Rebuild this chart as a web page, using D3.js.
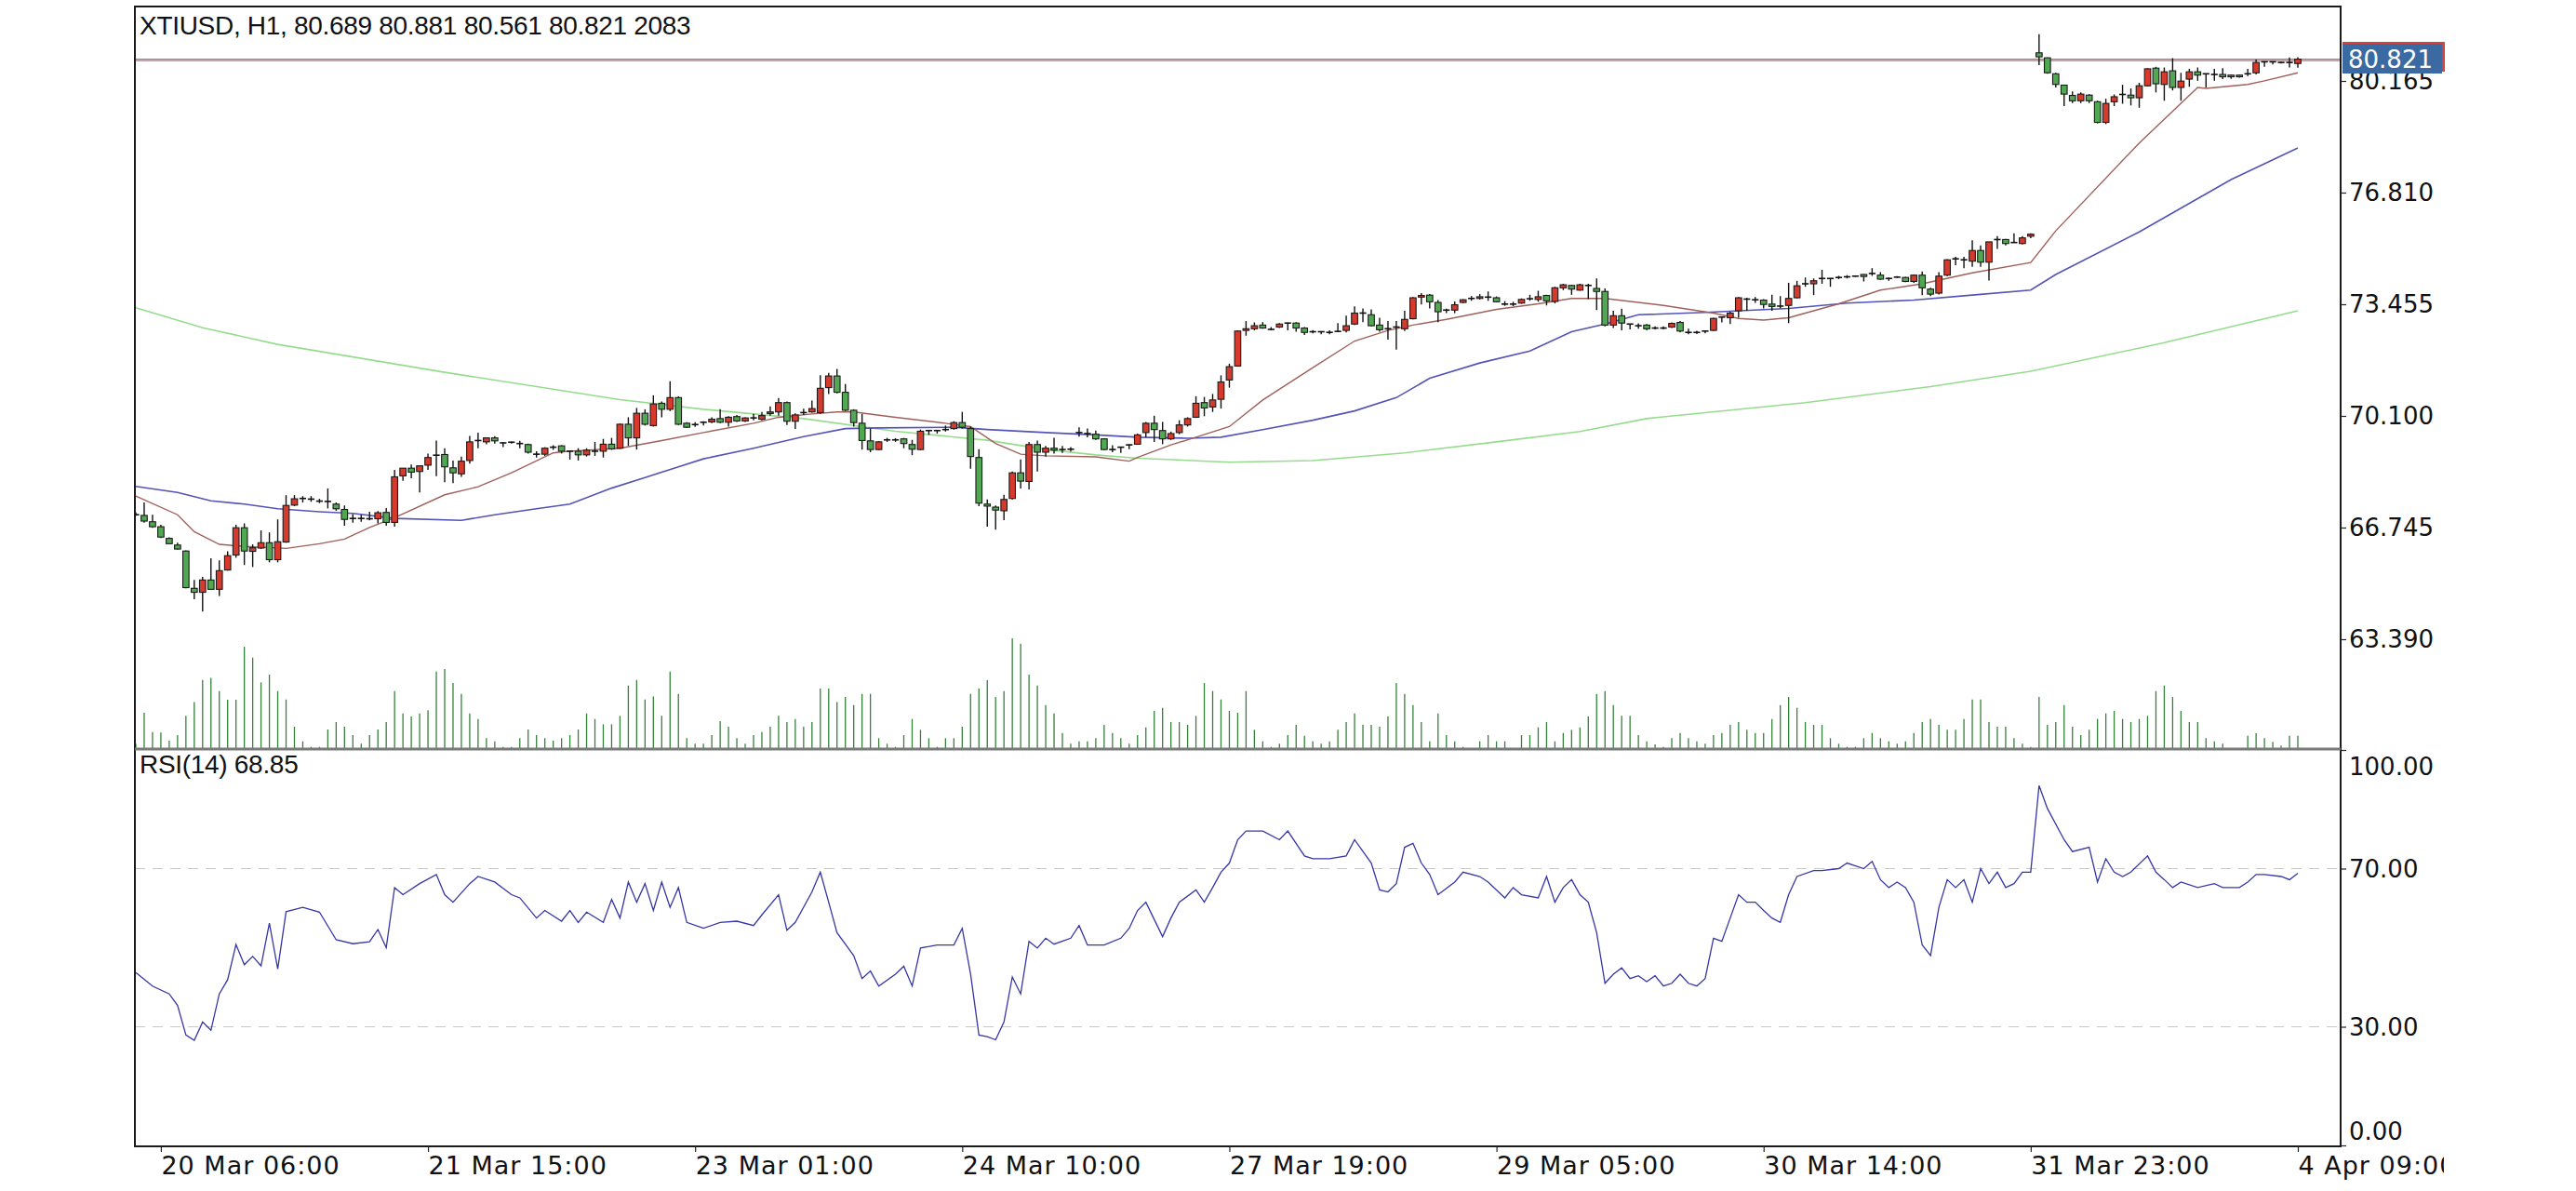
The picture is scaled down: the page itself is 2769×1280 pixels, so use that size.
<!DOCTYPE html>
<html>
<head>
<meta charset="utf-8">
<script src="https://cdn.jsdelivr.net/npm/d3@7"></script>
<style>
  body { margin: 0; background: #fff; }
  svg { display: block; }
</style>
</head>
<body>
<svg id="chart" width="2769" height="1280"></svg>
<script>
// ---- data (hourly bars, index 0..259) ----
var symbolTitle = "XTIUSD, H1, 80.689 80.881 80.561 80.821 2083";
var rsiTitle = "RSI(14) 68.85";
var lastPrice = 80.821;

var opens = [67.16,67.11,66.92,66.77,66.42,66.22,66.04,64.92,64.80,65.17,
64.89,65.47,65.92,66.74,66.03,66.13,66.29,65.78,66.31,67.42,
67.62,67.62,67.55,67.53,67.45,67.29,67.02,67.02,67.05,67.01,
67.20,66.90,68.30,68.53,68.43,68.62,68.92,68.94,68.54,68.36,
68.76,69.36,69.32,69.44,69.29,69.31,69.27,69.24,68.99,68.95,
69.16,69.20,69.04,69.04,68.93,69.04,69.04,69.25,69.13,69.85,
69.44,70.18,69.81,70.48,70.30,70.65,69.88,69.87,69.91,69.92,
70.02,69.91,70.08,69.95,70.04,70.00,70.17,70.22,70.50,69.94,
70.20,70.22,70.20,70.95,71.30,70.81,70.27,69.88,69.35,69.09,
69.38,69.41,69.41,69.24,69.09,69.66,69.66,69.69,69.72,69.90,
69.72,68.85,67.45,67.36,67.25,67.62,68.39,68.13,69.24,69.01,
69.13,69.09,69.10,69.60,69.57,69.55,69.41,69.13,69.16,69.23,
69.25,69.60,69.88,69.66,69.41,69.60,69.83,70.06,70.50,70.37,
70.60,71.18,71.60,72.67,72.72,72.83,72.74,72.77,72.89,72.89,
72.74,72.63,72.63,72.61,72.67,72.67,72.86,73.19,73.14,72.83,
72.72,72.77,72.72,73.02,73.67,73.73,73.51,73.28,73.28,73.51,
73.63,73.63,73.67,73.65,73.46,73.46,73.49,73.62,73.60,73.72,
73.54,73.95,74.02,73.88,74.02,73.93,73.84,72.83,73.11,72.86,
72.81,72.83,72.74,72.74,72.77,72.91,72.61,72.61,72.65,72.67,
73.07,73.05,73.26,73.61,73.59,73.58,73.46,73.40,73.42,73.65,
74.07,74.07,74.23,74.23,74.26,74.28,74.30,74.35,74.38,74.33,
74.23,74.27,74.26,74.14,74.33,73.91,73.79,74.33,74.82,74.79,
74.75,75.07,74.72,75.40,75.40,75.31,75.28,75.50,81.01,80.86,
80.38,80.04,79.73,79.57,79.74,79.54,78.92,79.54,79.76,79.74,
79.66,80.02,80.55,80.06,80.47,79.97,80.22,80.44,80.38,80.36,
80.36,80.34,80.34,80.38,80.41,80.74,80.74,80.72,80.72,80.689];

var highs = [67.20,67.50,67.13,66.83,66.45,66.29,66.06,65.17,65.26,65.82,
65.76,66.03,66.83,66.87,66.24,66.66,66.60,66.99,67.72,67.72,
67.69,67.69,67.61,67.92,67.50,67.41,67.15,67.13,67.22,67.24,
67.33,68.48,68.53,68.64,68.60,68.97,69.36,69.13,68.76,68.88,
69.50,69.60,69.46,69.49,69.30,69.33,69.35,69.27,69.04,69.16,
69.22,69.22,69.05,69.13,69.13,69.32,69.41,69.44,69.87,70.06,
70.34,70.30,70.72,70.53,71.14,70.69,69.91,69.91,69.94,70.06,
70.30,70.09,70.13,70.06,70.16,70.22,70.39,70.64,70.53,70.18,
70.32,70.56,71.32,71.39,71.51,71.06,70.30,70.16,69.72,69.34,
69.44,69.43,69.44,69.38,69.69,69.67,69.67,69.81,69.94,70.22,
69.78,69.10,67.59,67.41,67.73,68.43,68.79,69.32,69.36,69.20,
69.44,69.20,69.16,69.76,69.72,69.66,69.43,69.22,69.17,69.24,
69.57,69.92,70.11,69.92,69.63,69.97,70.06,70.69,70.67,70.76,
71.32,71.67,72.67,72.95,72.91,72.92,72.77,72.89,72.90,72.92,
72.77,72.68,72.64,72.67,72.89,73.11,73.39,73.33,73.30,73.05,
72.95,72.95,73.26,73.67,73.79,73.76,73.58,73.32,73.54,73.61,
73.70,73.76,73.84,73.69,73.55,73.53,73.63,73.74,73.86,73.74,
73.98,74.07,74.04,74.07,74.07,74.23,73.93,73.26,73.32,72.87,
72.88,72.86,72.79,72.79,72.91,72.95,72.72,72.66,72.66,73.05,
73.08,73.23,73.67,73.65,73.67,73.61,73.74,73.70,74.10,74.16,
74.26,74.23,74.49,74.24,74.31,74.33,74.32,74.36,74.54,74.42,
74.26,74.30,74.28,74.35,74.44,73.95,74.42,74.81,74.88,74.88,
75.38,75.22,75.33,75.50,75.42,75.59,75.50,75.59,81.57,80.87,
80.41,80.05,79.85,79.82,79.77,79.57,79.63,79.76,80.05,79.94,
80.11,80.55,80.59,80.57,80.85,80.41,80.53,80.57,80.39,80.53,
80.55,80.36,80.36,80.53,80.81,80.75,80.75,80.74,80.87,80.881];

var lows = [67.10,66.89,66.74,66.43,66.25,66.08,64.92,64.59,64.22,64.89,
64.69,65.45,65.84,65.62,65.56,66.10,65.70,65.70,66.29,67.39,
67.50,67.52,67.48,67.32,67.25,66.80,66.89,66.92,66.96,66.87,
66.80,66.77,68.15,68.23,67.80,68.48,68.29,68.11,68.08,68.27,
68.67,69.13,69.25,69.27,69.16,69.27,69.13,68.97,68.85,68.90,
69.08,68.97,68.79,68.76,68.88,68.90,68.85,69.08,69.11,69.20,
69.09,69.81,69.78,70.06,70.25,69.83,69.74,69.77,69.81,69.88,
69.88,69.78,69.92,69.92,69.97,69.97,70.11,70.11,69.83,69.71,
70.13,70.20,70.16,70.76,70.78,70.25,69.78,69.09,69.01,69.07,
69.32,69.32,69.13,68.92,69.07,69.53,69.57,69.63,69.69,69.72,
68.51,67.39,66.77,66.68,66.97,67.59,67.92,67.89,68.43,68.88,
68.97,68.99,69.03,69.48,69.46,69.38,69.07,69.01,68.99,69.10,
69.23,69.46,69.32,69.25,69.38,69.55,69.78,70.04,70.09,70.22,
70.32,70.95,71.58,72.51,72.67,72.72,72.67,72.74,72.67,72.63,
72.53,72.58,72.55,72.55,72.63,72.61,72.83,72.92,72.79,72.63,
72.39,72.09,72.65,73.00,73.45,73.33,72.92,73.19,73.19,73.49,
73.56,73.60,73.56,73.51,73.41,73.40,73.47,73.56,73.53,73.42,
73.48,73.88,73.74,73.86,73.61,73.28,72.79,72.74,72.67,72.70,
72.72,72.67,72.70,72.70,72.74,72.61,72.55,72.56,72.58,72.65,
72.91,72.86,73.05,73.26,73.50,73.33,73.26,73.33,72.89,73.63,
73.98,73.73,74.07,73.98,74.21,74.23,74.28,74.14,74.31,74.19,
74.16,74.25,74.12,74.10,73.73,73.70,73.75,74.30,74.63,74.54,
74.58,74.58,74.17,75.12,75.22,75.30,75.25,75.44,80.64,80.38,
79.97,79.41,79.50,79.50,79.50,78.89,78.87,79.41,79.48,79.43,
79.36,80.00,79.82,79.57,79.88,79.57,79.99,80.17,79.97,80.17,
80.22,80.23,80.26,80.31,80.36,80.59,80.66,80.69,80.57,80.561];

var closes = [67.13,66.94,66.77,66.46,66.26,66.10,64.94,64.80,65.17,64.89,
65.45,65.90,66.74,66.04,66.14,66.29,65.78,66.32,67.41,67.61,
67.62,67.60,67.54,67.53,67.31,66.99,67.02,67.02,67.01,67.19,
66.90,68.27,68.53,68.41,68.60,68.85,68.92,68.57,68.39,68.74,
69.32,69.36,69.44,69.35,69.29,69.31,69.27,69.01,68.95,69.13,
69.16,69.04,69.04,68.93,69.07,69.04,69.25,69.11,69.85,69.44,
70.18,69.85,70.46,70.30,70.65,69.85,69.76,69.84,69.91,70.00,
69.91,70.06,69.95,70.04,70.04,70.11,70.22,70.50,69.94,70.13,
70.20,70.32,70.93,71.30,70.81,70.27,69.90,69.36,69.09,69.32,
69.38,69.38,69.27,69.10,69.64,69.66,69.66,69.69,69.90,69.76,
68.88,67.48,67.39,67.27,67.59,68.39,68.14,69.24,69.01,69.13,
69.07,69.09,69.10,69.60,69.57,69.41,69.09,69.09,69.16,69.23,
69.53,69.88,69.69,69.41,69.57,69.83,70.02,70.48,70.34,70.58,
71.12,71.58,72.65,72.72,72.81,72.74,72.70,72.86,72.89,72.74,
72.61,72.63,72.63,72.61,72.64,72.81,73.19,73.19,72.81,72.69,
72.72,72.77,73.00,73.65,73.72,73.53,73.23,73.28,73.44,73.59,
73.63,73.68,73.67,73.53,73.46,73.46,73.60,73.62,73.68,73.56,
73.95,74.04,73.91,74.04,74.02,73.84,72.83,73.11,72.89,72.86,
72.81,72.72,72.74,72.74,72.88,72.65,72.61,72.61,72.65,73.03,
73.07,73.19,73.65,73.61,73.59,73.45,73.39,73.40,73.63,74.01,
74.07,74.16,74.23,74.23,74.26,74.28,74.30,74.29,74.38,74.21,
74.23,74.27,74.14,74.33,73.95,73.76,74.30,74.79,74.82,74.79,
75.07,74.72,75.33,75.40,75.28,75.31,75.45,75.56,80.89,80.41,
80.06,79.77,79.57,79.77,79.57,78.92,79.49,79.69,79.76,79.66,
80.02,80.53,80.08,80.44,79.97,80.16,80.44,80.34,80.38,80.36,
80.29,80.29,80.29,80.38,80.72,80.74,80.74,80.72,80.72,80.821];

var volumes = [800,5683,2670,2574,1311,2185,5197,7382,10830,11170,
9082,7722,7722,16027,14327,10442,11656,9082,7770,3497,
1214,340,340,3060,4225,3497,2185,826,2185,3060,
4225,9082,5585,5100,5585,6071,12142,12530,10345,8645,
5585,4711,1700,1214,340,340,1700,3060,2185,1700,
1311,1700,2185,3060,5585,4711,3885,3885,5197,9957,
10830,7770,8256,5197,12142,8645,1700,826,826,2185,
4371,3497,1700,826,2185,2670,3497,5197,4225,4711,
3497,4225,9471,9471,7382,8159,6896,8645,8645,1700,
826,340,2185,4711,3011,1700,340,1700,1700,3497,
8645,9471,10782,8159,9082,17338,16513,11656,9957,6896,
5585,2525,826,1214,1214,1700,3788,2525,1700,826,
2185,3400,5974,6459,4225,4225,3788,5197,10345,9082,
7770,5974,5683,9082,3011,1214,340,826,2185,3788,
2088,1214,826,1214,3011,4225,5585,3788,3788,3497,
5100,10345,8645,6896,4225,1214,5585,2185,1214,340,
150,1214,2185,1214,1214,150,2185,2185,3400,4225,
1214,2525,3011,3400,5100,8645,9082,6896,5197,5197,
2185,1214,730,340,1700,2525,1700,1214,826,2185,
2525,3788,4225,3011,2525,2525,4711,6896,8159,6459,
4225,3788,3788,1700,826,340,340,1700,2525,1700,
1214,826,1214,2525,4225,4711,3788,3011,3011,4711,
7770,7770,4225,3497,3497,1700,826,340,8159,3788,
4225,6896,3497,2185,3011,4711,5585,5974,4711,4225,
4711,5197,9082,9957,8159,5974,4225,4225,1700,1214,
826,150,150,2083,2477,1700,1120,540,2083,2083];

// moving averages, read at sampled bars
var maFastBars = [0,5,7,10,13,18,22,25,28,31,37,41,45,50,52,58,63,68,74,77,81,84,86,91,96,100,103,106,109,115,119,120,124,127,131,135,141,146,150,153,157,163,168,172,176,183,189,192,195,198,204,209,214,220,227,230,240,247,248,253,255,259];
var maFastValues = [67.69,67.13,66.62,66.24,66.18,66.12,66.26,66.40,66.75,67.04,67.73,67.97,68.39,68.99,69.04,69.13,69.36,69.60,69.88,70.06,70.16,70.22,70.22,70.06,69.91,69.78,69.27,68.95,68.90,68.87,68.74,68.85,69.23,69.46,69.78,70.58,71.55,72.35,72.67,72.83,73.00,73.30,73.47,73.63,73.63,73.42,73.19,73.03,72.98,73.05,73.47,73.88,74.07,74.40,74.71,75.66,78.30,79.97,79.94,80.06,80.17,80.41];

var maMidBars = [0,5,9,13,17,22,26,31,39,43,48,52,57,61,65,68,74,80,85,89,98,102,109,115,120,126,130,135,141,146,151,155,161,167,172,176,180,188,198,205,213,220,227,230,240,251,259];
var maMidValues = [67.98,67.80,67.55,67.45,67.31,67.22,67.17,67.02,66.96,67.13,67.31,67.45,67.93,68.25,68.57,68.81,69.13,69.48,69.72,69.74,69.76,69.69,69.60,69.53,69.46,69.43,69.46,69.69,69.97,70.25,70.65,71.23,71.69,72.05,72.63,72.86,73.14,73.21,73.33,73.49,73.58,73.73,73.88,74.35,75.63,77.20,78.15];

var maSlowBars = [0,8,17,37,58,68,80,91,102,109,115,120,131,141,152,163,173,181,200,215,227,243,259];
var maSlowValues = [73.35,72.75,72.25,71.41,70.59,70.30,70.02,69.64,69.37,69.09,68.93,68.83,68.71,68.76,68.99,69.32,69.63,70.02,70.50,70.98,71.44,72.30,73.26];

// RSI(14), read at sampled bars
var rsiBars = [0,2,4,5,6,7,8,9,10,11,12,13,14,15,16,17,18,20,22,24,26,28,29,30,31,32,34,36,37,38,40,41,43,45,46,48,49,51,52,53,54,56,57,58,59,60,61,62,63,64,65,66,68,70,72,74,75,77,78,79,81,82,83,84,86,87,88,89,91,92,93,94,96,98,99,100,101,102,103,104,105,106,107,108,109,110,112,113,114,116,118,119,120,121,123,124,125,127,128,129,130,131,132,133,135,137,138,140,141,143,145,146,148,149,150,151,152,153,154,155,156,158,159,161,162,164,165,166,168,169,170,171,172,173,174,175,176,177,178,179,180,181,182,183,184,185,186,187,188,189,190,191,192,193,194,195,196,197,198,199,201,202,204,205,207,208,209,210,211,212,213,214,215,216,217,218,219,220,221,222,223,224,225,226,227,228,229,231,232,234,235,236,237,238,239,241,242,243,244,245,247,249,250,252,253,254,255,257,258,259];
var rsiValues = [43.7,40.3,38.3,35.4,27.9,26.6,31.2,29.1,38.3,41.9,50.8,45.7,47.8,45.4,56.2,44.6,59.1,60.2,59.0,52.0,51.0,51.5,54.6,50.0,65.2,63.4,66.2,68.5,63.4,61.5,66.2,68.0,66.6,63.4,62.6,57.5,59.4,56.7,59.4,56.4,59.0,56.4,62.2,57.5,66.6,61.5,66.2,59.4,66.6,60.2,65.2,56.4,54.9,56.4,56.7,55.6,58.3,63.4,54.4,56.4,64.1,69.1,61.5,53.8,48.0,42.2,44.1,40.3,43.3,45.3,40.3,49.9,50.7,50.7,54.9,43.3,27.9,27.5,26.7,31.2,42.6,38.3,51.6,49.9,52.4,50.9,52.4,55.6,50.7,50.7,52.4,54.9,59.4,61.5,52.8,57.5,61.5,64.6,61.5,65.2,69.1,71.4,77.3,79.5,79.5,77.3,79.5,73.2,72.5,72.5,73.2,77.3,71.4,64.6,64.1,66.2,75.4,76.4,71.4,68.5,63.4,66.6,69.1,68.0,66.6,62.6,65.2,63.4,62.6,68.0,61.5,65.2,67.2,63.4,61.5,53.8,41.0,43.3,44.9,42.2,42.9,41.4,42.9,40.3,41.0,43.3,41.0,40.3,42.2,52.4,51.6,57.5,63.4,61.5,61.5,59.4,57.5,56.4,63.4,68.0,69.5,69.5,70.0,71.4,70.0,71.8,67.2,65.2,66.6,65.2,61.5,50.7,48.0,60.2,67.2,65.2,67.2,61.5,70.0,66.2,69.1,65.2,66.2,69.1,69.1,91.0,85.2,77.3,74.3,75.4,66.6,72.5,69.1,68.0,69.1,73.2,69.1,67.2,65.2,66.6,65.2,66.2,65.2,65.2,66.6,68.5,68.5,68.0,67.2,68.85];

var priceTicks = [80.165, 76.810, 73.455, 70.100, 66.745, 63.390];
var rsiTicks = [100, 70, 30, 0];
var rsiLevels = [70, 30];
var timeTickBars = [3, 35, 67, 99, 131, 163, 195, 227, 259];
var timeTickLabels = ["20 Mar 06:00", "21 Mar 15:00", "23 Mar 01:00", "24 Mar 10:00", "27 Mar 19:00",
  "29 Mar 05:00", "30 Mar 14:00", "31 Mar 23:00", "4 Apr 09:00"];

// ---- layout ----
var svg = d3.select("#chart");
var plotLeft = 145, plotRight = 2516, plotTop = 7, mainBottom = 805, rsiBottom = 1232;
var upColor = "#d63a2c", downColor = "#52a852";

var x = d3.scaleLinear().domain([0, opens.length - 1]).range([146, 2470]);
var yPrice = d3.scaleLinear().domain([63.390, 80.165]).range([687, 87]);
var yVol = d3.scaleLinear().domain([0, 17500]).range([mainBottom, mainBottom - 120]);
var yRsi = d3.scaleLinear().domain([0, 100]).range([1231, 806]);

svg.append("rect").attr("width", 2769).attr("height", 1280).attr("fill", "#fff");

var defs = svg.append("defs");
defs.append("clipPath").attr("id", "mainClip").append("rect")
  .attr("x", plotLeft).attr("y", plotTop).attr("width", plotRight - plotLeft).attr("height", mainBottom - plotTop);
defs.append("clipPath").attr("id", "rsiClip").append("rect")
  .attr("x", plotLeft).attr("y", mainBottom).attr("width", plotRight - plotLeft).attr("height", rsiBottom - mainBottom);
defs.append("clipPath").attr("id", "pageClip").append("rect")
  .attr("x", 0).attr("y", 0).attr("width", 2627).attr("height", 1280);

var bars = opens.map(function (o, i) {
  return { i: i, o: o, h: highs[i], l: lows[i], c: closes[i], v: volumes[i] };
});

var main = svg.append("g").attr("clip-path", "url(#mainClip)");

// volume histogram at the foot of the price panel
main.append("g").selectAll("line")
  .data(bars)
  .enter()
  .append("line")
  .attr("x1", d => x(d.i)).attr("x2", d => x(d.i))
  .attr("y1", yVol(0)).attr("y2", d => yVol(d.v))
  .attr("stroke", "#34823a")
  .attr("stroke-width", 1.3);

// moving averages
function maLine(idx, vals, color, w) {
  var pts = idx.map((b, k) => [b, vals[k]]);
  main.append("path")
    .attr("d", d3.line().x(d => x(d[0])).y(d => yPrice(d[1]))(pts))
    .attr("fill", "none")
    .attr("stroke", color)
    .attr("stroke-width", w);
}
maLine(maSlowBars, maSlowValues, "#96dc8e", 1.6);
maLine(maMidBars, maMidValues, "#5454b8", 1.6);
maLine(maFastBars, maFastValues, "#a0605a", 1.4);

// bid / ask lines
main.append("line")
  .attr("x1", plotLeft).attr("x2", plotRight)
  .attr("y1", yPrice(lastPrice) + 1.5).attr("y2", yPrice(lastPrice) + 1.5)
  .attr("stroke", "#8a8a8a").attr("stroke-width", 1.2);
main.append("line")
  .attr("x1", plotLeft).attr("x2", plotRight)
  .attr("y1", yPrice(lastPrice)).attr("y2", yPrice(lastPrice))
  .attr("stroke", "#e0607a").attr("stroke-width", 1.2);

// candles
var candles = main.append("g").selectAll("g")
  .data(bars)
  .enter()
  .append("g");

candles.append("line")
  .attr("x1", d => x(d.i)).attr("x2", d => x(d.i))
  .attr("y1", d => yPrice(d.h)).attr("y2", d => yPrice(d.l))
  .attr("stroke", "#111")
  .attr("stroke-width", 1.4);

candles.filter(d => Math.abs(yPrice(d.o) - yPrice(d.c)) >= 1.5)
  .append("rect")
  .attr("x", d => x(d.i) - 3.3)
  .attr("width", 6.6)
  .attr("y", d => yPrice(Math.max(d.o, d.c)))
  .attr("height", d => Math.abs(yPrice(d.o) - yPrice(d.c)))
  .attr("fill", d => d.c > d.o ? upColor : downColor)
  .attr("stroke", "#1a1a1a")
  .attr("stroke-width", 1.1);

candles.filter(d => Math.abs(yPrice(d.o) - yPrice(d.c)) < 1.5)
  .append("line")
  .attr("x1", d => x(d.i) - 3.6).attr("x2", d => x(d.i) + 3.6)
  .attr("y1", d => yPrice(d.c)).attr("y2", d => yPrice(d.c))
  .attr("stroke", "#111")
  .attr("stroke-width", 1.6);

// ---- RSI panel ----
var rsi = svg.append("g").attr("clip-path", "url(#rsiClip)");
rsi.selectAll(".level")
  .data(rsiLevels)
  .enter()
  .append("line")
  .attr("class", "level")
  .attr("x1", plotLeft).attr("x2", plotRight)
  .attr("y1", d => yRsi(d)).attr("y2", d => yRsi(d))
  .attr("stroke", "#c8c8c8")
  .attr("stroke-width", 1.2)
  .attr("stroke-dasharray", "11,8");

rsi.append("path")
  .attr("d", d3.line().x(d => x(d[0])).y(d => yRsi(d[1]))(rsiBars.map((b, k) => [b, rsiValues[k]])))
  .attr("fill", "none")
  .attr("stroke", "#3636a8")
  .attr("stroke-width", 1.3);

// ---- frames ----
svg.append("rect")
  .attr("x", plotLeft).attr("y", plotTop)
  .attr("width", plotRight - plotLeft).attr("height", rsiBottom - plotTop)
  .attr("fill", "none").attr("stroke", "#1a1a1a").attr("stroke-width", 2);
svg.append("line")
  .attr("x1", plotLeft).attr("x2", plotRight)
  .attr("y1", mainBottom).attr("y2", mainBottom)
  .attr("stroke", "#7a7a7a").attr("stroke-width", 3);

// ---- axes ----
var axisFont = "DejaVu Sans";

var priceAxis = svg.append("g")
  .attr("transform", `translate(${plotRight},0)`)
  .call(d3.axisRight(yPrice).tickValues(priceTicks).tickFormat(d3.format(".3f")).tickSize(6).tickPadding(3));

var rsiAxis = svg.append("g")
  .attr("transform", `translate(${plotRight},0)`)
  .call(d3.axisRight(yRsi).tickValues(rsiTicks).tickFormat(d3.format(".2f")).tickSize(6).tickPadding(3));
rsiAxis.selectAll(".tick text")
  .attr("dy", d => d === 100 ? "1.0em" : d === 0 ? "-0.25em" : "0.36em");

var timeAxis = svg.append("g")
  .attr("transform", `translate(0,${rsiBottom})`)
  .attr("clip-path", "url(#pageClip)")
  .call(d3.axisBottom(x).tickValues(timeTickBars).tickFormat((d, k) => timeTickLabels[k]).tickSize(6));

[priceAxis, rsiAxis, timeAxis].forEach(function (a) {
  a.select(".domain").remove();
  a.selectAll(".tick line").attr("stroke", "#222").attr("stroke-width", 1.2);
  a.selectAll(".tick text")
    .attr("font-family", axisFont)
    .attr("font-size", 26)
    .attr("fill", "#111");
});
timeAxis.selectAll(".tick text")
  .attr("text-anchor", "start")
  .attr("font-size", 27)
  .attr("y", 30).attr("dy", 0)
  .attr("letter-spacing", "1px");

// last price marker
svg.append("rect").attr("x", 2518).attr("y", 45).attr("width", 110).attr("height", 32).attr("fill", "#d9423a");
svg.append("rect").attr("x", 2518).attr("y", 47).attr("width", 107).attr("height", 32).attr("fill", "#3b6aa3");
svg.append("text")
  .attr("x", 2524).attr("y", 73)
  .attr("font-family", axisFont).attr("font-size", 26)
  .attr("fill", "#fff")
  .text(d3.format(".3f")(lastPrice));

// ---- titles ----
svg.append("text")
  .attr("x", 150).attr("y", 37)
  .attr("font-family", "Liberation Sans, Arial, sans-serif").attr("font-size", 28)
  .attr("letter-spacing", "-0.3px")
  .attr("fill", "#111")
  .text(symbolTitle);

svg.append("text")
  .attr("x", 150).attr("y", 831)
  .attr("font-family", "Liberation Sans, Arial, sans-serif").attr("font-size", 28)
  .attr("letter-spacing", "-0.3px")
  .attr("fill", "#111")
  .text(rsiTitle);
</script>
</body>
</html>
